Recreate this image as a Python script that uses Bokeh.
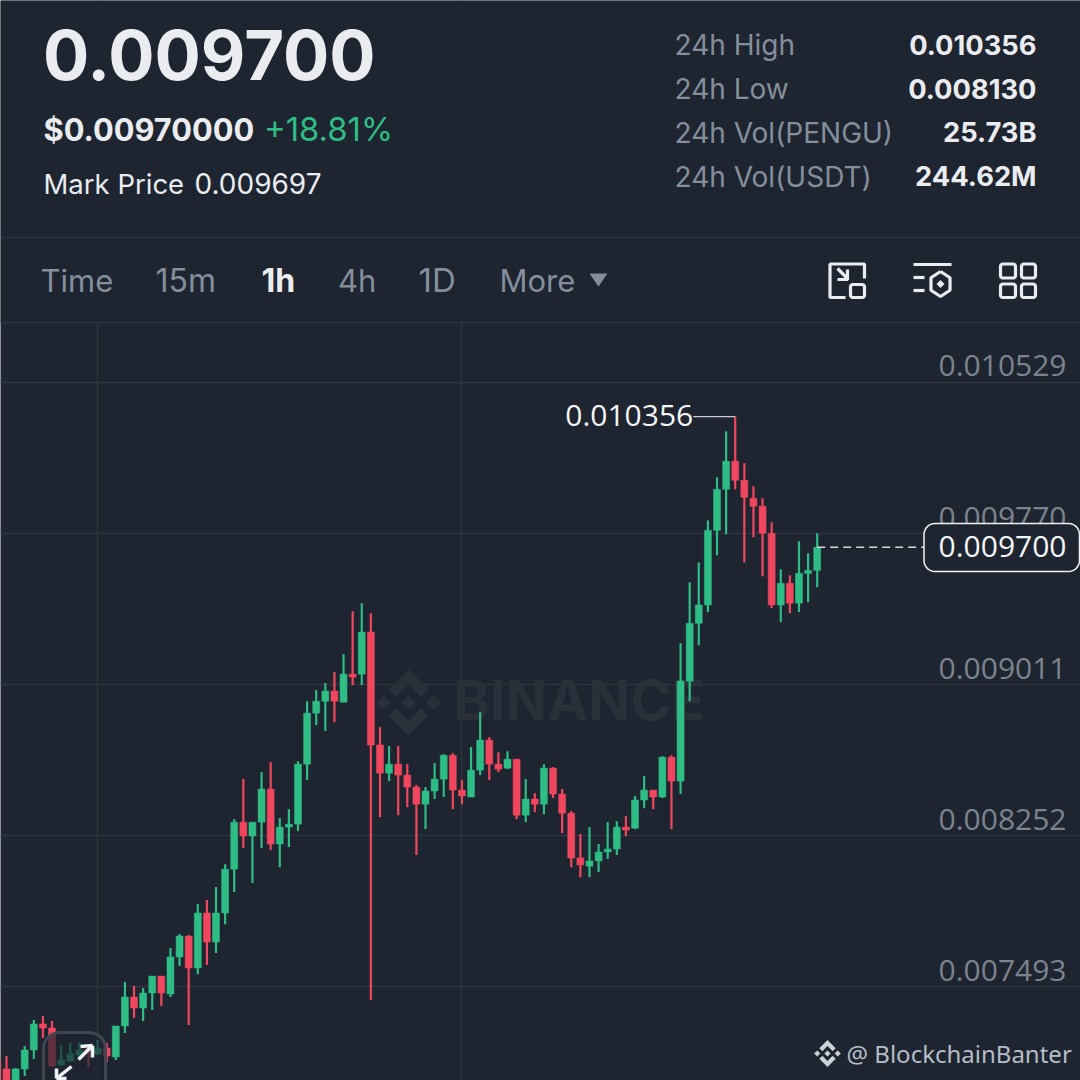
from bokeh.core.properties import value
from bokeh.embed import file_html
from bokeh.models import FixedTicker, Grid, Range1d
from bokeh.plotting import figure
from bokeh.resources import INLINE
import numpy as np

# ---- chart data ----
candle_index = list(range(-1, 90))
opens = [0.007125,0.007081,0.006975,0.007081,0.007176,0.007307,0.007286,0.007101,0.007121,0.007151,0.007186,0.007156,
0.007186,0.007141,0.007297,0.007442,0.007387,0.007462,0.007547,0.007457,0.007643,0.007748,0.007588,0.007864,0.007718,
0.007864,0.008084,0.008320,0.008250,0.008320,0.008486,0.008210,0.008295,0.008310,0.008611,0.008867,0.008927,0.008978,
0.008922,0.009063,0.009063,0.009274,0.008707,0.008566,0.008611,0.008556,0.008496,0.008410,0.008476,0.008536,0.008656,
0.008481,0.008446,0.008581,0.008732,0.008611,0.008591,0.008636,0.008355,0.008436,0.008410,0.008591,0.008461,0.008365,
0.008140,0.008099,0.008125,0.008170,0.008185,0.008295,0.008290,0.008431,0.008481,0.008446,0.008646,0.008526,0.009028,
0.009318,0.009410,0.009785,0.009991,0.010132,0.010036,0.009946,0.009906,0.009770,0.009410,0.009519,0.009419,0.009569,
0.009584]
highs = [0.007211,0.007146,0.007086,0.007196,0.007327,0.007347,0.007322,0.007201,0.007211,0.007216,0.007196,0.007226,
0.007211,0.007297,0.007517,0.007497,0.007487,0.007547,0.007547,0.007688,0.007758,0.007753,0.007909,0.007929,0.007994,
0.008109,0.008335,0.008536,0.008320,0.008571,0.008621,0.008340,0.008385,0.008626,0.008927,0.008983,0.009018,0.009073,
0.009163,0.009379,0.009419,0.009369,0.008797,0.008702,0.008702,0.008611,0.008506,0.008496,0.008616,0.008661,0.008666,
0.008531,0.008697,0.008872,0.008747,0.008671,0.008676,0.008636,0.008536,0.008466,0.008611,0.008596,0.008486,0.008375,
0.008260,0.008295,0.008210,0.008320,0.008325,0.008350,0.008451,0.008551,0.008481,0.008651,0.008656,0.009218,0.009524,
0.009624,0.009835,0.010051,0.010282,0.010356,0.010122,0.010006,0.009946,0.009825,0.009589,0.009559,0.009730,0.009670,
0.009770]
lows = [0.007000,0.006975,0.006965,0.007046,0.007131,0.007236,0.007091,0.007096,0.007116,0.007136,0.007091,0.007151,
0.007116,0.007126,0.007261,0.007337,0.007322,0.007377,0.007397,0.007442,0.007598,0.007302,0.007557,0.007603,0.007663,
0.007808,0.007969,0.008190,0.008014,0.008190,0.008180,0.008094,0.008195,0.008275,0.008531,0.008807,0.008777,0.008822,
0.008922,0.009008,0.009008,0.007427,0.008345,0.008526,0.008355,0.008395,0.008155,0.008285,0.008436,0.008446,0.008385,
0.008410,0.008446,0.008556,0.008531,0.008571,0.008586,0.008335,0.008320,0.008370,0.008360,0.008441,0.008265,0.008094,
0.008044,0.008044,0.008069,0.008135,0.008155,0.008250,0.008285,0.008390,0.008385,0.008441,0.008285,0.008461,0.008927,
0.009208,0.009374,0.009660,0.009765,0.009991,0.009624,0.009750,0.009554,0.009394,0.009324,0.009369,0.009374,0.009424,
0.009499]
closes = [0.007025,0.007000,0.007081,0.007176,0.007307,0.007286,0.007096,0.007126,0.007156,0.007176,0.007166,0.007186,
0.007146,0.007297,0.007442,0.007387,0.007462,0.007547,0.007462,0.007643,0.007748,0.007588,0.007864,0.007718,0.007864,
0.008084,0.008320,0.008250,0.008320,0.008486,0.008210,0.008295,0.008310,0.008611,0.008867,0.008927,0.008978,0.008927,
0.009063,0.009048,0.009274,0.008707,0.008566,0.008611,0.008556,0.008496,0.008410,0.008476,0.008536,0.008656,0.008481,
0.008451,0.008581,0.008732,0.008611,0.008586,0.008636,0.008355,0.008436,0.008410,0.008591,0.008461,0.008365,0.008140,
0.008105,0.008125,0.008170,0.008185,0.008295,0.008280,0.008431,0.008481,0.008446,0.008646,0.008526,0.009028,0.009318,
0.009410,0.009785,0.009991,0.010132,0.010036,0.009951,0.009906,0.009770,0.009410,0.009519,0.009419,0.009569,0.009584,
0.009700]
price_ticks = [0.010529, 0.009770, 0.009011, 0.008252, 0.007493]
price_tick_labels = ["0.010529", "0.009770", "0.009011", "0.008252", "0.007493"]
time_grid_candles = [10, 50]
high_candle = 80
high_price = 0.010356
high_label = "0.010356"
last_price = 0.009700
last_label = "0.009700"
stat_names = ["24h High", "24h Low", "24h Vol(PENGU)", "24h Vol(USDT)"]
stat_values = ["0.010356", "0.008130", "25.73B", "244.62M"]
tab_names = ["Time", "15m", "1h", "4h", "1D", "More"]

# ---- colours ----
BG = "#1e2530"
GREEN = "#2ebd85"
RED = "#f0475f"
GRID = "#2f343e"
WHITE = "#eaecef"
GRAY = "#848e9c"
AXIS_GRAY = "#7d838c"
FONT = value("Inter")
NUM_FONT = value("Open Sans")
RISE = 0.39  # the page draws a text this share of its size below the asked baseline

# ---- scales: one candle step is 9.109 px; one px is 5.02e-6 in price ----
STEP = 9.109
p = figure(
    width=1080, height=1080, output_backend="svg", toolbar_location=None,
    x_axis_type=None, y_axis_type=None,
    x_range=Range1d(-6 / STEP, 1074 / STEP),
    y_range=Range1d(0.0070230, 0.0124447),
    min_border=0, background_fill_color=BG, border_fill_color=BG, outline_line_color=None,
)
# a pixel space (image pixels) for the chrome round the chart
p.extra_x_ranges["px"] = Range1d(0, 1080)
p.extra_y_ranges["px"] = Range1d(1080, 0)
PX = dict(x_range_name="px", y_range_name="px")

p.add_layout(Grid(dimension=0, ticker=FixedTicker(ticks=time_grid_candles),
                  grid_line_color=GRID, grid_line_width=1.5))
p.add_layout(Grid(dimension=1, ticker=FixedTicker(ticks=price_ticks),
                  grid_line_color=GRID, grid_line_width=1.5))


def txt(x, y, s, size, color, align="left", style="normal", font=FONT, alpha=1.0):
    p.text(x=[x], y=[y - RISE * size], text=[s], text_font=font, text_font_size=f"{size}px",
           text_color=color, text_align=align, text_baseline="alphabetic",
           text_font_style=style, text_alpha=alpha, **PX)


def rrect(x0, y0, x1, y1, r):
    t = np.linspace(0, np.pi / 2, 8)
    xs = np.concatenate([x1 - r + r * np.sin(t), x1 - r + r * np.cos(t),
                         x0 + r - r * np.sin(t), x0 + r - r * np.cos(t)])
    ys = np.concatenate([y0 + r - r * np.cos(t), y1 - r + r * np.sin(t),
                         y1 - r + r * np.cos(t), y0 + r - r * np.sin(t)])
    return list(xs) + [xs[0]], list(ys) + [ys[0]]


def logo(cx, cy, k, color):
    d = 7.5 * k
    shapes = [
        [(0, -d), (d, 0), (0, d), (-d, 0)],
        [(-25 * k, -d), (-25 * k + d, 0), (-25 * k, d), (-25 * k - d, 0)],
        [(25 * k, -d), (25 * k + d, 0), (25 * k, d), (25 * k - d, 0)],
    ]
    top = [(0, -33), (20, -13), (12.5, -5.5), (0, -18), (-12.5, -5.5), (-20, -13)]
    shapes.append([(a * k, b * k) for a, b in top])
    shapes.append([(a * k, -b * k) for a, b in top])
    p.patches([[cx + a for a, _ in s] for s in shapes], [[cy + b for _, b in s] for s in shapes],
              fill_color=color, line_color=None, **PX)


# ---- watermark ----
logo(408, 702, 1.0, "#2a303a")
txt(453, 721, "BINANCE", 55, "#2a303a", style="bold")

# ---- candles ----
colors = [GREEN if c >= o else RED for o, c in zip(opens, closes)]
p.segment(candle_index, lows, candle_index, highs, line_color=colors, line_width=2.2)
p.vbar(candle_index, 7 / STEP, opens, closes, fill_color=colors, line_color=colors, line_width=0.5)

# ---- expand button over the chart ----
bx, by = rrect(43, 1032, 105, 1100, 16)
p.patch(bx, by, fill_color=BG, fill_alpha=0.68, line_color="#414751", line_width=3, **PX)
p.multi_line([[56, 71], [56, 66], [56, 56], [92, 78], [80, 92], [92, 92]],
             [[1078, 1066], [1078, 1078], [1078, 1068], [1045, 1059], [1046, 1045], [1045, 1057]],
             line_color="#f0f2f5", line_width=3.5, **PX)

# ---- axis labels ----
NUM = 30
p.text(x=[(1066 - 6) / STEP] * 5, y=price_ticks, text=price_tick_labels, text_font=NUM_FONT,
       text_font_size=f"{NUM}px", text_color=AXIS_GRAY, text_align="right",
       text_baseline="alphabetic", y_offset=-4.5 - RISE * NUM)

# ---- high marker and last price ----
p.segment([high_candle - 42 / STEP], [high_price], [high_candle], [high_price],
          line_color="#c9ccd1", line_width=1.3)
p.text(x=[high_candle], y=[high_price], text=[high_label], text_font=NUM_FONT, text_font_size=f"{NUM}px",
       text_color="#f5f6f7", text_align="right", text_baseline="alphabetic", x_offset=-42,
       y_offset=11 - RISE * NUM)
p.segment([89], [last_price], [89 + 107 / STEP], [last_price], line_color="#d5d8dc",
          line_width=1.5, line_dash="8 5")
cx, cy = rrect(923.5, 523, 1079, 571, 11)
p.patch(cx, cy, fill_color=BG, line_color="#eef0f2", line_width=1.5, **PX)
p.text(x=[(1066 - 6) / STEP], y=[last_price], text=[last_label], text_font=NUM_FONT, text_font_size=f"{NUM}px",
       text_color="#f5f6f7", text_align="right", text_baseline="alphabetic", y_offset=11 - RISE * NUM)

# ---- header ----
p.quad(left=[0], right=[1080], top=[0], bottom=[322], fill_color=BG, line_color=None, **PX)
p.segment([0, 0], [237, 322], [1080, 1080], [237, 322], line_color=GRID, line_width=1.5, **PX)
txt(42.5, 81, last_label, 68.7, WHITE, style="bold")
txt(43, 141, "$0.00970000", 30.8, WHITE, style="bold")
txt(263.5, 141, "+18.81%", 32.8, GREEN)
txt(43, 194, "Mark Price", 27.5, WHITE)
txt(194, 194, "0.009697", 28, WHITE)
for name, val, y in zip(stat_names, stat_values, [55, 99, 143, 187]):
    txt(674, y, name, 28, GRAY)
    txt(1036, y, val, 27.3, WHITE, align="right", style="bold")
tab_x = [40, 155, 261, 337.5, 418, 499]
tab_size = [31, 32, 32, 31, 33, 31]
for name, x, size in zip(tab_names, tab_x, tab_size):
    if name == "1h":
        txt(x, 292, name, size, WHITE, style="bold")
    else:
        txt(x, 292, name, size, GRAY)
p.patch([589, 607, 598], [273, 273, 286], fill_color=GRAY, line_color=None, **PX)

# ---- toolbar icons ----
ICON = dict(line_color=WHITE, line_width=3.2, **PX)
p.multi_line([[845, 829.5, 829.5, 864, 864], [837, 847], [847, 847, 837]],
             [[297, 297, 263.5, 263.5, 278], [268, 278], [269, 279, 279]], **ICON)
for sq in [(850, 284, 864, 297), (1000, 263.5, 1015, 277.5), (1021, 263.5, 1035, 277.5),
           (1000, 283.5, 1015, 297), (1021, 283.5, 1035, 297)]:
    sx, sy = rrect(*sq, 2.5)
    p.line(sx, sy, **ICON)
p.multi_line([[913, 951], [913, 924], [913, 924]], [[264, 264], [277, 277], [290, 290]], **ICON)
hx = [940 + 11 * np.sin(a) for a in np.radians(np.arange(0, 361, 60))]
hy = [283.5 - 12.5 * np.cos(a) for a in np.radians(np.arange(0, 361, 60))]
p.line(hx, hy, **ICON)
p.patch([940, 944, 940, 936], [279.5, 283.5, 287.5, 283.5], fill_color=WHITE, line_color=None, **PX)

# ---- footer credit ----
logo(827, 1053, 0.41, "#cdd1d8")
txt(846, 1062, "@ BlockchainBanter", 24, "#b7bdc6", font=value("Noto Sans"))

open("out.html", "w").write(file_html(p, INLINE))
